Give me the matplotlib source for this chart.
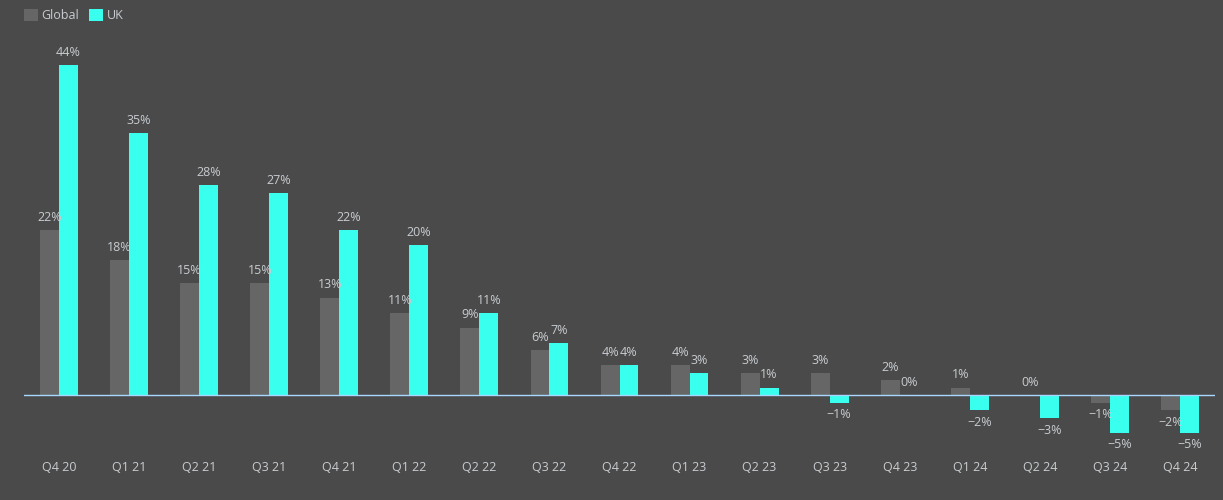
import matplotlib
matplotlib.use("Agg")
import matplotlib.pyplot as plt
import numpy as np

quarters = ["Q4 20", "Q1 21", "Q2 21", "Q3 21", "Q4 21", "Q1 22", "Q2 22", "Q3 22",
            "Q4 22", "Q1 23", "Q2 23", "Q3 23", "Q4 23", "Q1 24", "Q2 24", "Q3 24", "Q4 24"]
global_vals = [22, 18, 15, 15, 13, 11, 9, 6, 4, 4, 3, 3, 2, 1, 0, -1, -2]
uk_vals = [44, 35, 28, 27, 22, 20, 11, 7, 4, 3, 1, -1, 0, -2, -3, -5, -5]

bg = "#4a4a4a"
global_col = "#666666"
uk_col = "#38ffee"
text_col = "#c8ccd0"

plt.rcParams['font.family'] = ["Open Sans", "DejaVu Sans"]

W, H = 1223, 500
fig = plt.figure(figsize=(W / 100, H / 100), dpi=100, facecolor=bg)
# axes in pixel coordinates: left 24, right 1215, top 30, bottom 455
ax = fig.add_axes([24 / W, 1 - 455 / H, (1215 - 24) / W, (455 - 30) / H], facecolor=bg)

x = np.arange(len(quarters))
w = 0.27
b1 = ax.bar(x - w / 2, global_vals, w, color=global_col, label="Global")
b2 = ax.bar(x + w / 2, uk_vals, w, color=uk_col, label="UK")

ax.axhline(0, color="#a8d8ff", lw=1)

for bars, vals in ((b1, global_vals), (b2, uk_vals)):
    for rect, v in zip(bars, vals):
        cx = rect.get_x() + rect.get_width() / 2
        txt = f"{v}%".replace("-", "\u2212")
        if v >= 0:
            ax.annotate(txt, (cx, v), xytext=(0, 9), textcoords="offset points",
                        ha="center", va="center", color=text_col, fontsize=9)
        else:
            ax.annotate(txt, (cx, v), xytext=(0, -9), textcoords="offset points",
                        ha="center", va="center", color=text_col, fontsize=9)

ax.set_xlim(-0.5, len(quarters) - 0.5)
ax.set_ylim(-8, (395 - 30) / 7.5)
ax.set_xticks(x)
ax.set_xticklabels(quarters, color=text_col, fontsize=9)
ax.tick_params(axis="x", length=0, pad=4)
ax.set_yticks([])
for s in ax.spines.values():
    s.set_visible(False)

leg = fig.legend(loc="upper left", bbox_to_anchor=(19 / W, 1 - 4 / H), ncol=2, frameon=False,
                 fontsize=9, handlelength=1.1, handleheight=1.1, handletextpad=0.3,
                 columnspacing=0.8, borderaxespad=0)
for t in leg.get_texts():
    t.set_color(text_col)

fig.savefig("out.png", dpi=100, facecolor=bg)
